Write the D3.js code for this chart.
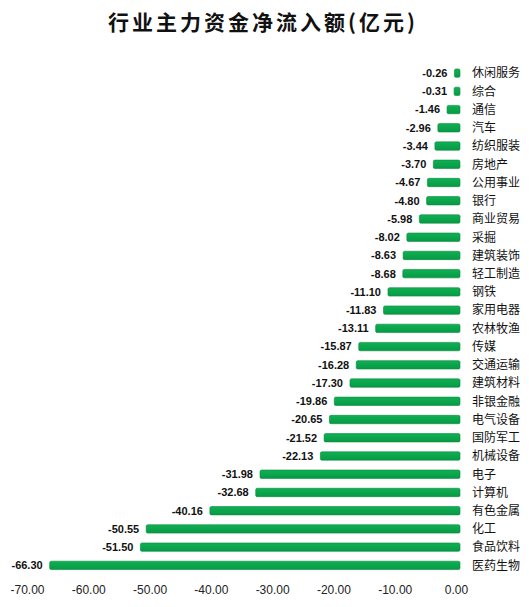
<!DOCTYPE html>
<html><head><meta charset="utf-8">
<script src="https://cdn.jsdelivr.net/npm/d3@7"></script>
<style>body{margin:0;background:#fff;} svg{display:block;}</style>
</head><body>
<script>
const categories = ["休闲服务","综合","通信","汽车","纺织服装","房地产","公用事业","银行","商业贸易","采掘","建筑装饰","轻工制造","钢铁","家用电器","农林牧渔","传媒","交通运输","建筑材料","非银金融","电气设备","国防军工","机械设备","电子","计算机","有色金属","化工","食品饮料","医药生物"];
const values = [-0.26,-0.31,-1.46,-2.96,-3.44,-3.70,-4.67,-4.80,-5.98,-8.02,-8.63,-8.68,-11.10,-11.83,-13.11,-15.87,-16.28,-17.30,-19.86,-20.65,-21.52,-22.13,-31.98,-32.68,-40.16,-50.55,-51.50,-66.30];
const xTicks = [-70,-60,-50,-40,-30,-20,-10,0];
const title = "行业主力资金净流入额(亿元)";

const W = 529, H = 607;
const svg = d3.select("body").append("svg").attr("width", W).attr("height", H);

const defs = svg.append("defs");
const g = defs.append("linearGradient").attr("id","bg").attr("x1",0).attr("y1",0).attr("x2",0).attr("y2",1);
g.append("stop").attr("offset","0%").attr("stop-color","#10b054");
g.append("stop").attr("offset","100%").attr("stop-color","#069a44");

const x = d3.scaleLinear().domain([-70, 0]).range([27, 456]);
const y = d3.scaleBand().domain(categories).range([64, 574.5]).paddingInner(0.54).paddingOuter(0.27);

svg.append("text").attr("x", 263).attr("y", 30).attr("text-anchor","middle")
  .attr("font-family","'Noto Sans CJK SC'").attr("font-weight","bold").attr("font-size",21)
  .attr("letter-spacing", 3).attr("fill","#111").text(title);

const rows = svg.append("g").selectAll("g").data(categories).join("g");
rows.append("rect")
  .attr("x", (d,i) => x(values[i]) )
  .attr("y", d => y(d))
  .attr("width", (d,i) => Math.max(3, x(0) + 4 - x(values[i])))
  .attr("height", y.bandwidth())
  .attr("rx", 1.5)
  .attr("fill", "url(#bg)")
  .attr("stroke", "#0a8a3e").attr("stroke-width", 0.6);

rows.append("text")
  .attr("x", (d,i) => Math.min(x(values[i]), x(0)-1) - 7)
  .attr("y", d => y(d) + y.bandwidth()/2)
  .attr("dy","0.35em").attr("text-anchor","end")
  .attr("font-family","'Liberation Sans', Arial, sans-serif").attr("font-weight","bold").attr("font-size",11)
  .attr("fill","#111")
  .text((d,i) => values[i].toFixed(2));

rows.append("text")
  .attr("x", 472)
  .attr("y", d => y(d) + y.bandwidth()/2)
  .attr("dy","0.36em")
  .attr("font-family","'Noto Sans CJK SC'").attr("font-size",12)
  .attr("fill","#111")
  .text(d => d);

const axis = d3.axisBottom(x).tickValues(xTicks).tickFormat(d => d.toFixed(2)).tickSize(0).tickPadding(0);
const ax = svg.append("g").attr("transform", "translate(0,585)").call(axis);
ax.select(".domain").remove();
ax.selectAll("text").attr("font-family","'Liberation Sans', Arial, sans-serif").attr("font-size",12).attr("fill","#222");
</script>
</body></html>
